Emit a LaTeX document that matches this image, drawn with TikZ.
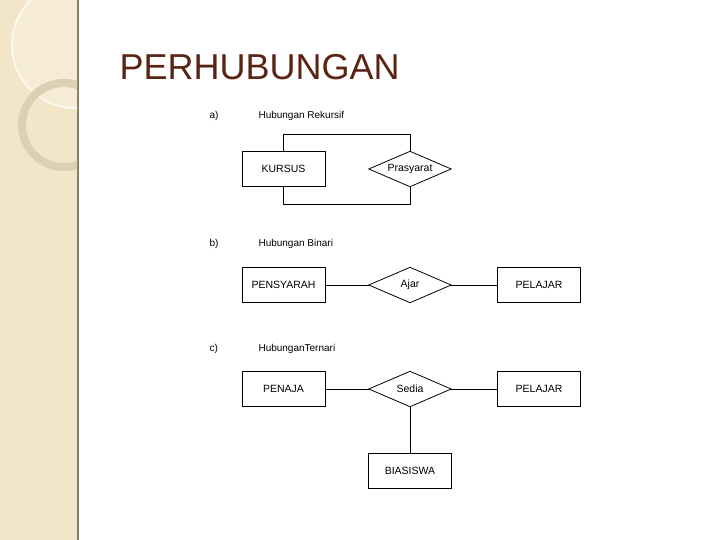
\documentclass[tikz,border=0pt]{standalone}
\usepackage{fontspec}
\setmainfont{Liberation Sans}
\definecolor{panel}{HTML}{F3E6C8}
\definecolor{titlec}{HTML}{5A2414}
\begin{document}
\begin{tikzpicture}[x=1pt,y=-1pt,
  ent/.style={draw,line width=0.8pt,minimum width=83pt,minimum height=35pt,font=\fontsize{10.5}{12}\selectfont},
  rel/.style={minimum width=82pt,minimum height=35pt,font=\fontsize{10.5}{12}\selectfont},
  lab/.style={anchor=west,font=\fontsize{10}{12}\selectfont},
  ln/.style={line width=0.8pt}]
\useasboundingbox (0,0) rectangle (720,540);
\fill[white] (0,0) rectangle (720,540);
\fill[panel] (0,0) rectangle (78,540);
\draw[line width=1.2pt,black!45!panel] (78,0) -- (78,540);
\begin{scope}
\clip (0,0) rectangle (77,540);
\fill[white,opacity=0.25] (75,45) circle (63);
\draw[line width=2pt,white!70!panel] (75,45) circle (63);
\draw[line width=8pt,black!10!panel] (64,125) circle (42);
\end{scope}
\node[anchor=west,text=titlec,font=\fontsize{36}{40}\selectfont] (t) at (116,67) {PERHUBUNGAN};
% a
\node[lab] (la) at (206,116) {a)};
\node[lab] (ta) at (255,116) {Hubungan Rekursif};
\node[ent] (k) at (283.5,169) {KURSUS};
\node[rel] (p) at (410,169) {Prasyarat};
\draw[ln] (p.west) -- (p.north) -- (p.east) -- (p.south) -- cycle;
\draw[ln] (k.north) -- (283.5,134) -| (p.north);
\draw[ln] (k.south) -- (283.5,204) -| (p.south);
% b
\node[lab] (lb) at (206,244) {b)};
\node[lab] (tb) at (255,244) {Hubungan Binari};
\node[ent] (ps) at (283.5,285) {PENSYARAH};
\node[rel] (aj) at (410,285) {Ajar};
\draw[ln] (aj.west) -- (aj.north) -- (aj.east) -- (aj.south) -- cycle;
\node[ent] (pl1) at (539,285) {PELAJAR};
\draw[ln] (ps.east) -- (aj.west);
\draw[ln] (aj.east) -- (pl1.west);
% c
\node[lab] (lc) at (206,349) {c)};
\node[lab] (tc) at (255,349) {HubunganTernari};
\node[ent] (pn) at (283.5,389) {PENAJA};
\node[rel] (sd) at (410,389) {Sedia};
\draw[ln] (sd.west) -- (sd.north) -- (sd.east) -- (sd.south) -- cycle;
\node[ent] (pl2) at (539,389) {PELAJAR};
\node[ent] (bs) at (410,470.5) {BIASISWA};
\draw[ln] (pn.east) -- (sd.west);
\draw[ln] (sd.east) -- (pl2.west);
\draw[ln] (sd.south) -- (bs.north);
\end{tikzpicture}
\end{document}
